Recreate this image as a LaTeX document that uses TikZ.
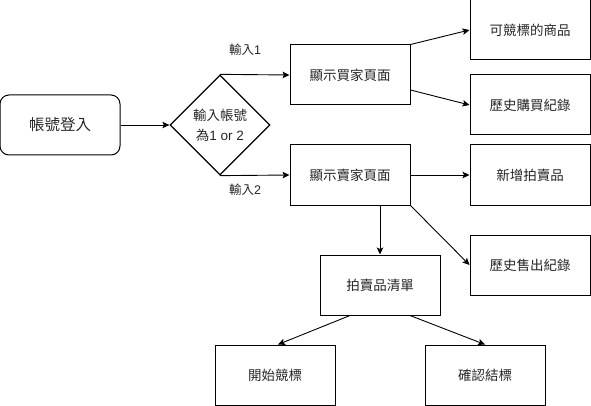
\documentclass[tikz,border=0pt]{standalone}
\usepackage{fontspec}
\setmainfont{Liberation Sans}
\newfontfamily\cjk{Noto Sans CJK TC}
\usetikzlibrary{arrows.meta,shapes.geometric}
\begin{document}
\begin{tikzpicture}[x=1pt,y=-1pt,
  every node/.style={font=\cjk\fontsize{13.5}{16}\selectfont,text=black!85},
  box/.style={draw,line width=1pt,minimum width=120pt,minimum height=60pt,inner sep=0pt},
  rbox/.style={box,rounded corners=9pt,font=\cjk\fontsize{15.5}{18}\selectfont},
  dia/.style={draw,line width=1.3pt,diamond,minimum width=100pt,minimum height=100pt,inner sep=0pt,align=center,font=\cjk\fontsize{13.5}{20}\selectfont},
  lbl/.style={font=\cjk\fontsize{12.5}{14}\selectfont},
  arr/.style={line width=0.9pt,-{Stealth[length=7pt,width=6.5pt,inset=1.5pt]}}]
\useasboundingbox (0,0) rectangle (591,406);
\node[rbox] (login) at (60,125) {帳號登入};
\node[dia] (dec) at (220,125) {輸入帳號\\為{\rmfamily 1 or 2}};
\node[box] (buyer) at (350,75) {顯示買家頁面};
\node[box] (seller) at (350,175) {顯示賣家頁面};
\node[box] (bid) at (530,30) {可競標的商品};
\node[box] (bhist) at (530,105) {歷史購買紀錄};
\node[box] (add) at (530,175) {新增拍賣品};
\node[box] (shist) at (530,265) {歷史售出紀錄};
\node[box] (list) at (380,285) {拍賣品清單};
\node[box] (start) at (275,375) {開始競標};
\node[box] (conf) at (485,375) {確認結標};
\node[lbl] (l1) at (245,50) {輸入{\rmfamily 1}};
\node[lbl] (l2) at (245,190) {輸入{\rmfamily 2}};
\draw[arr] (login.east) -- (dec.west);
\draw[arr] (dec.north) -- (buyer.west);
\draw[arr] (dec.south) -- (seller.west);
\draw[arr] (buyer.north east) -- (bid.west);
\draw[arr] ([yshift=-15pt]buyer.east) -- (bhist.west);
\draw[arr] (seller.east) -- (add.west);
\draw[arr] (seller.south east) -- (shist.west);
\draw[arr] ([xshift=30pt]seller.south) -- (list.north);
\draw[arr] ([xshift=-30pt]list.south) -- ([xshift=3pt]start.north);
\draw[arr] ([xshift=30pt]list.south) -- (conf.north);
\end{tikzpicture}
\end{document}
